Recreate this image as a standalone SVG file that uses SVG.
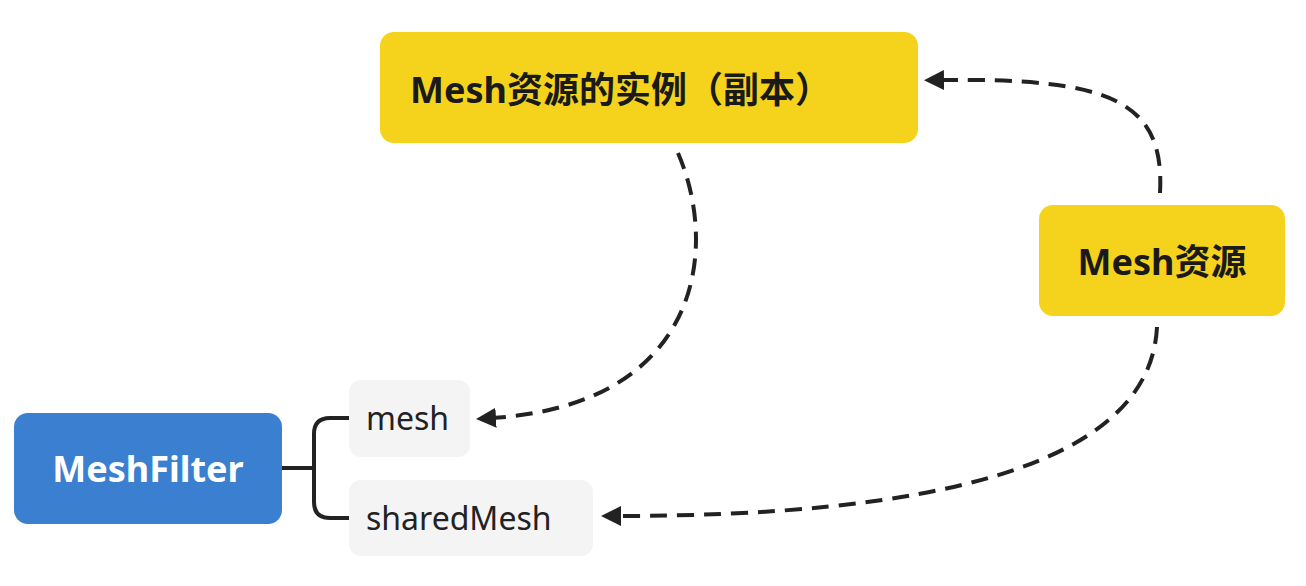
<svg xmlns="http://www.w3.org/2000/svg" width="1306" height="586" viewBox="0 0 1306 586">
<style>
.y{fill:#f5d31d}
.t{font-family:"Noto Sans","Noto Sans CJK SC",sans-serif;font-weight:bold;font-size:36px;fill:#1a1a1a}
.s{font-family:"Noto Sans",sans-serif;font-size:32px;fill:#222}
.sub{fill:#f5f4f5}
.c{fill:none;stroke:#222;stroke-width:4;stroke-dasharray:17 10}
</style>
<defs><marker id="a" viewBox="0 0 10 10" refX="2" refY="5" markerWidth="5" markerHeight="5" orient="auto" markerUnits="strokeWidth"><path d="M0,0L10,5L0,10z" fill="#222"/></marker></defs>
<rect width="1306" height="586" fill="#fff"/>
<g id="inst"><rect class="y" x="380" y="32" width="538" height="111" rx="14"/><text class="t" x="410" y="103">Mesh资源的实例（副本）</text></g>
<g id="res"><rect class="y" x="1039" y="205" width="246" height="111" rx="14"/><text class="t" x="1162" y="275" text-anchor="middle">Mesh资源</text></g>
<g id="mf"><rect x="14" y="413" width="268" height="111" rx="14" fill="#3a7fd0"/><text class="t" x="148" y="482" text-anchor="middle" fill="#fff" style="fill:#fff">MeshFilter</text></g>
<g id="mesh"><rect class="sub" x="349" y="380" width="121" height="77" rx="12"/><text class="s" x="366" y="430">mesh</text></g>
<g id="shared"><rect class="sub" x="349" y="480" width="244" height="76" rx="12"/><text class="s" x="366" y="530">sharedMesh</text></g>
<g id="connectors">
<path d="M282,468H314M349,418H330Q314,418 314,434V502Q314,518 330,518H349" fill="none" stroke="#222" stroke-width="4"/>
<path class="c" d="M678,153C720,250 700,405 492,418" marker-end="url(#a)"/>
<path class="c" d="M1160,193C1165,100 1110,78 940,80" marker-end="url(#a)"/>
<path class="c" d="M1157,327C1150,470 920,516 617,516" marker-end="url(#a)"/>
</g>
</svg>
